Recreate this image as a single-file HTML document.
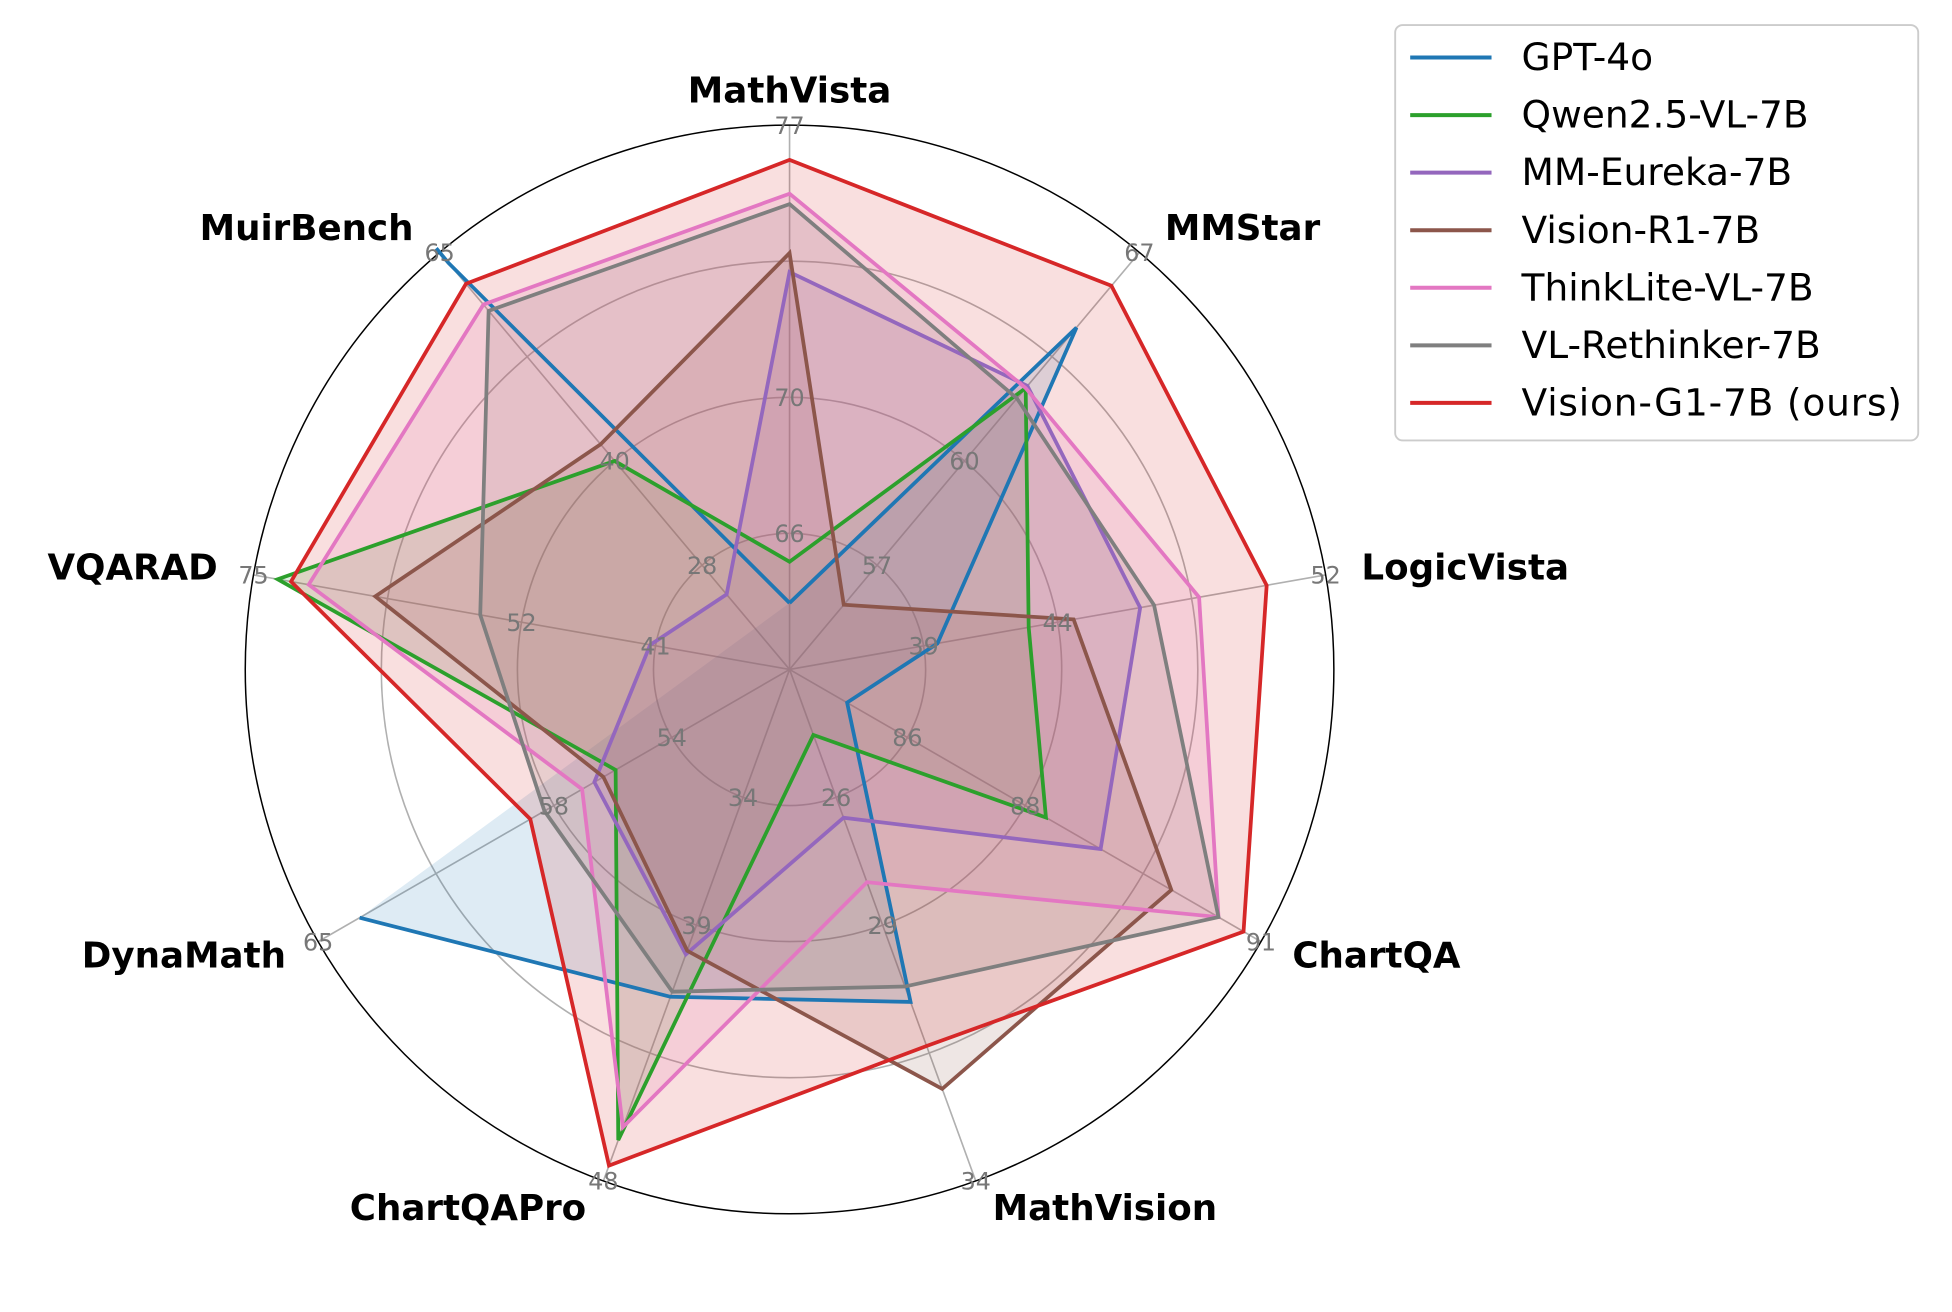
<!DOCTYPE html>
<html><head><meta charset="utf-8">
<style>
html,body{margin:0;padding:0;background:#fff;}
svg{display:block;}
text{font-family:"DejaVu Sans","Liberation Sans",sans-serif;}
</style></head>
<body>
<svg id="c" width="1952" height="1312" viewBox="0 0 1560 1048.5" preserveAspectRatio="none" xmlns="http://www.w3.org/2000/svg">
<g id="grid"></g>
<g id="series"></g>
<g id="labels"></g>
<g id="legend">
<rect x="1115" y="20" width="418" height="332" rx="6" fill="#fff" stroke="#cccccc" stroke-width="1.5"/>
</g>
</svg>
<script>
const NS="http://www.w3.org/2000/svg";
const cx=631,cy=535,R=435;
function el(p,tag,attrs,txt){const e=document.createElementNS(NS,tag);for(const k in attrs)e.setAttribute(k,attrs[k]);if(txt!==undefined)e.textContent=txt;p.appendChild(e);return e;}
function pt(k,r){const a=k*40*Math.PI/180;return [cx+r*R*Math.sin(a),cy-r*R*Math.cos(a)];}
function P(k,r){return pt(k,r).map(x=>x.toFixed(1)).join(',');}
const g=document.getElementById('grid');
[0.25,0.5,0.75].forEach(f=>el(g,'circle',{cx,cy,r:f*R,fill:'none',stroke:'#b0b0b0','stroke-width':1.3}));
for(let k=0;k<9;k++){const p=pt(k,1);el(g,'line',{x1:cx,y1:cy,x2:p[0],y2:p[1],stroke:'#b0b0b0','stroke-width':1.3});}
el(g,'circle',{cx,cy,r:R,fill:'none',stroke:'#000','stroke-width':1.2});
const series=[
 ['GPT-4o','#1f77b4',[0.122,0.82,0.276,0.122,0.65,0.64,0.912,null,0.975]],
 ['Qwen2.5-VL-7B','#2ca02c',[0.198,0.675,0.446,0.544,0.128,0.92,0.369,0.955,0.5]],
 ['MM-Eureka-7B','#9467bd',[0.73,0.68,0.654,0.66,0.29,0.557,0.414,0.26,0.18]],
 ['Vision-R1-7B','#8c564b',[0.765,0.155,0.53,0.81,0.82,0.55,0.395,0.773,0.54]],
 ['ThinkLite-VL-7B','#e377c2',[0.874,0.675,0.764,0.91,0.416,0.895,0.44,0.897,0.875]],
 ['VL-Rethinker-7B','#7f7f7f',[0.855,0.65,0.68,0.91,0.62,0.63,0.52,0.577,0.86]],
 ['Vision-G1-7B (ours)','#d62728',[0.936,0.92,0.89,0.963,0.736,0.97,0.55,0.93,0.925]]
];
const s=document.getElementById('series');
series.forEach(([n,c,v],i)=>{
 let pts;
 if(i===0){pts=[0,1,2,3,4,5,6].map(k=>P(k,v[k])).join(' ');}
 else pts=v.map((r,k)=>P(k,r)).join(' ');
 el(s,'polygon',{points:pts,fill:c,'fill-opacity':0.15,stroke:'none'});});
series.forEach(([n,c,v],i)=>{
 if(i===0){
  const pts=[0,1,2,3,4,5,6].map(k=>P(k,v[k])).join(' ');
  el(s,'polyline',{points:pts,fill:'none',stroke:c,'stroke-width':3});
  el(s,'polyline',{points:P(8,1.01)+' '+P(8,v[8])+' '+P(0,v[0]),fill:'none',stroke:c,'stroke-width':3});
  return;}
 const pts=v.map((r,k)=>P(k,r)).join(' ');
 el(s,'polygon',{points:pts,fill:'none',stroke:c,'stroke-width':3,'stroke-linejoin':'miter'});});
const L=document.getElementById('labels');
const ticks=[['66','70','77'],['57','60','67'],['39','44','52'],['86','88','91'],['26','29','34'],['34','39','48'],['54','58','65'],['41','52','75'],['28','40','65']];
const fr=[0.25,0.5,1.0];
ticks.forEach((t,k)=>t.forEach((lab,i)=>{const p=pt(k,fr[i]);el(L,'text',{x:p[0],y:p[1]+7,'text-anchor':'middle','font-size':19,fill:'#777'},lab);}));
const cats=[['MathVista',631,82],['MMStar',993,192],['LogicVista',1171,463],['ChartQA',1100,773],['MathVision',883,975],['ChartQAPro',374,975],['DynaMath',147,773],['VQARAD',106,463],['MuirBench',245,192]];
cats.forEach(([t,x,y])=>el(L,'text',{x,y,'text-anchor':'middle','font-size':28.5,'font-weight':'bold',fill:'#000'},t));
const lg=document.getElementById('legend');
series.forEach(([n,c],i)=>{const y=46+i*46;el(lg,'line',{x1:1127,y1:y,x2:1192,y2:y,stroke:c,'stroke-width':3.2});
 el(lg,'text',{x:1216,y:y+10,'font-size':30,fill:'#000',textLength:i===6?304:undefined},n);});
</script>
</body></html>
